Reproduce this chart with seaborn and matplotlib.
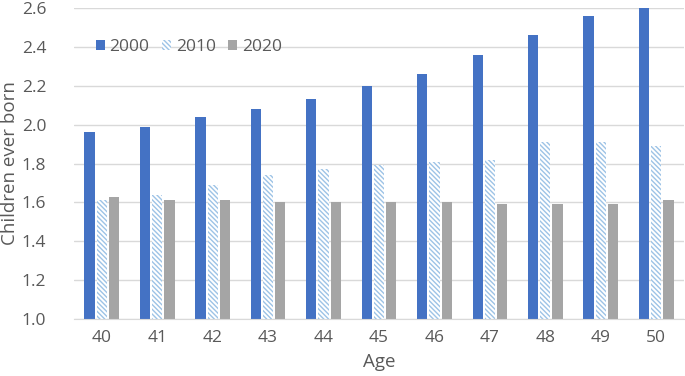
import pandas as pd
import matplotlib.pyplot as plt
import seaborn as sns

ages = [40, 41, 42, 43, 44, 45, 46, 47, 48, 49, 50]
years = ["2000", "2010", "2020"]
ceb_2000 = [1.96, 1.99, 2.04, 2.08, 2.13, 2.20, 2.26, 2.36, 2.46, 2.56, 2.61]
ceb_2010 = [1.61, 1.64, 1.69, 1.74, 1.77, 1.79, 1.81, 1.82, 1.91, 1.91, 1.89]
ceb_2020 = [1.63, 1.61, 1.61, 1.60, 1.60, 1.60, 1.60, 1.59, 1.59, 1.59, 1.61]

df = pd.DataFrame({"Age": ages * 3,
                   "Year": [y for y in years for _ in ages],
                   "CEB": ceb_2000 + ceb_2010 + ceb_2020})

sns.set_style("white")
plt.rcParams["font.family"] = ["Open Sans", "DejaVu Sans"]
plt.rcParams["hatch.linewidth"] = 1.0
plt.rcParams["hatch.color"] = "#9DC3E6"
text_col = "#595959"
hatch = "\\" * 7

fig = plt.figure(figsize=(6.85, 3.76), dpi=100)
ax = fig.add_axes([74 / 685, 1 - 319 / 376, 610 / 685, 311 / 376])

palette = {"2000": "#4472C4", "2010": "white", "2020": "#A5A5A5"}
sns.barplot(data=df, x="Age", y="CEB", hue="Year", palette=palette,
            width=0.66, gap=0.16, ax=ax, linewidth=0, saturation=1)

# hatch the 2010 series
for bar in ax.containers[1]:
    bar.set_hatch(hatch)
    bar.set_edgecolor("#9DC3E6")
    bar.set_linewidth(0)

ax.set_ylim(1.0, 2.6)
ax.set_yticks([1.0, 1.2, 1.4, 1.6, 1.8, 2.0, 2.2, 2.4, 2.6])
ax.set_yticklabels([f"{v:.1f}" for v in ax.get_yticks()])
ax.yaxis.grid(True, color="#D9D9D9", linewidth=1)
ax.set_axisbelow(True)
for s in ["top", "right", "left"]:
    ax.spines[s].set_visible(False)
ax.spines["bottom"].set_color("#D9D9D9")
ax.tick_params(axis="both", length=0, labelsize=12.5, colors=text_col, pad=8)
ax.tick_params(axis="y", pad=20)
ax.set_xlabel("Age", fontsize=13.5, color=text_col, labelpad=5)
ax.set_ylabel("Children ever born", fontsize=13.5, color=text_col, labelpad=2)

leg = ax.legend(loc="upper left", bbox_to_anchor=(0.01, 0.95), ncol=3, frameon=False,
                fontsize=12.5, handlelength=0.55, handleheight=0.55, handletextpad=0.25,
                columnspacing=0.7)
for t in leg.get_texts():
    t.set_color(text_col)
for h in leg.legend_handles:
    if h.get_facecolor()[:3] == (1.0, 1.0, 1.0):
        h.set_hatch(hatch)
        h.set_edgecolor("#9DC3E6")
        h.set_linewidth(0)

fig.savefig("out.png", dpi=100)
